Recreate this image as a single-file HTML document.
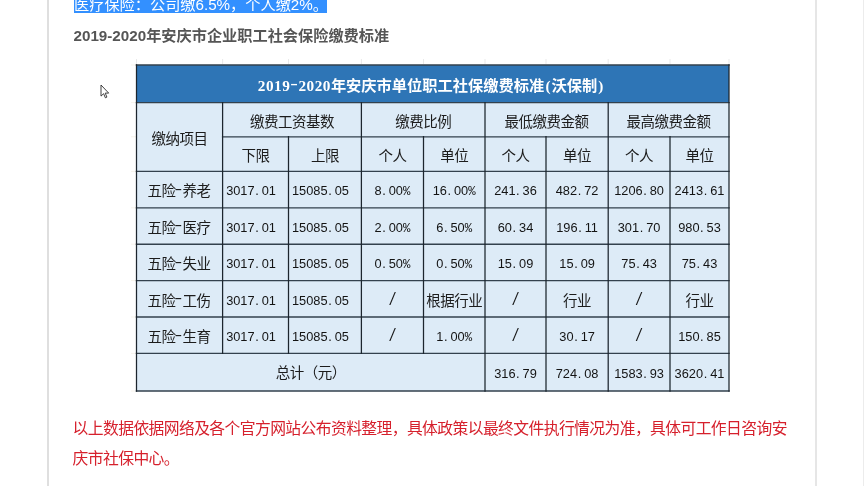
<!DOCTYPE html>
<html lang="zh-CN">
<head>
<meta charset="utf-8">
<title>2019-2020年安庆市企业职工社会保险缴费标准</title>
<style>
html,body{margin:0;padding:0;background:#fff;}
body{width:864px;height:486px;position:relative;overflow:hidden;font-family:"Liberation Sans","Noto Sans CJK SC",sans-serif;}
.bl{position:absolute;top:0;height:486px;background:#dfdfdf;}
.sel{position:absolute;left:74px;top:-8px;height:20.5px;line-height:25.4px;font-size:15.2px;color:#fff;background:#3390ff;white-space:nowrap;width:252.5px;overflow:hidden;}
h3{position:absolute;left:73.5px;top:20.5px;margin:0;font-size:15.2px;line-height:30px;font-weight:bold;color:#555;white-space:nowrap;}
.note{position:absolute;left:72.6px;top:413.5px;width:720px;margin:0;font-size:15.8px;letter-spacing:-0.6px;line-height:30px;color:#d6202c;}
.bg{position:absolute;}
.c{position:absolute;box-sizing:border-box;text-align:center;white-space:nowrap;color:#1c1c1c;font-size:14.5px;overflow:hidden;}
.cj{font-family:"Liberation Sans","Noto Sans CJK SC",sans-serif;font-weight:400;letter-spacing:-0.5px;}
.cj .hy{display:inline-block;width:7px;letter-spacing:0;text-align:center;position:relative;top:-2.4px;left:-0.8px;transform:scaleX(1.6);}
.nm{font-family:"Liberation Sans","Noto Sans CJK SC",sans-serif;font-size:12.8px;color:#141414;}
.nm .n{display:inline-block;transform:scaleY(1.03);}
.nm .p{display:inline-block;width:7.1px;text-align:left;text-indent:0.6px;}
.nm .pc{display:inline-block;width:7.6px;font-family:"Liberation Mono",monospace;font-size:12.4px;transform:scaleY(1.02);}
.nm .sl{display:inline-block;font-family:"Liberation Mono",monospace;font-size:13.5px;transform:scaleY(1.38) translateY(-0.8px);}
.hd{color:#fff;font-family:"Liberation Serif","Noto Sans CJK SC",sans-serif;font-weight:bold;font-size:15.25px;letter-spacing:0;}
.hd .d{letter-spacing:0.5px;}
.hd .pr{display:inline-block;width:7.1px;text-align:center;}
.hd .hy{position:relative;top:-3px;transform:scaleX(1.5);display:inline-block;width:8.1px;text-align:center;letter-spacing:0;}
.grid{position:absolute;left:0;top:0;}
.cur{position:absolute;left:99.5px;top:84.3px;}
</style>
</head>
<body>
<div class="bl" style="left:47px;width:1.5px"></div>
<div class="bl" style="left:815px;width:2px;background:#e6e6e6"></div>
<div class="bl" style="left:863px;width:1px;background:#ececec"></div>
<div class="sel">医疗保险：公司缴6.5%，个人缴2%。</div>
<h3>2019-2020年安庆市企业职工社会保险缴费标准</h3>
<div class="bg" style="left:136.5px;top:65.0px;width:592.5px;height:326.0px;background:#ddebf7"></div>
<div class="bg" style="left:136.5px;top:65.0px;width:592.5px;height:37.599999999999994px;background:#2e75b6"></div>
<div class="c hd" style="left:134.8px;top:65.0px;width:592.5px;height:37.6px;line-height:41.6px"><span class="d">2019</span><span class="hy">-</span><span class="d">2020</span>年安庆市单位职工社保缴费标准<span class="pr">(</span>沃保制<span class="pr">)</span></div>
<div class="c cj" style="left:136.5px;top:102.6px;width:86.1px;height:68.8px;line-height:72.8px">缴纳项目</div>
<div class="c cj" style="left:222.6px;top:102.6px;width:138.8px;height:34.2px;line-height:38.2px">缴费工资基数</div>
<div class="c cj" style="left:361.4px;top:102.6px;width:123.6px;height:34.2px;line-height:38.2px">缴费比例</div>
<div class="c cj" style="left:485.0px;top:102.6px;width:123.2px;height:34.2px;line-height:38.2px">最低缴费金额</div>
<div class="c cj" style="left:608.2px;top:102.6px;width:120.8px;height:34.2px;line-height:38.2px">最高缴费金额</div>
<div class="c cj" style="left:222.6px;top:136.8px;width:65.9px;height:34.6px;line-height:38.6px">下限</div>
<div class="c cj" style="left:288.5px;top:136.8px;width:72.9px;height:34.6px;line-height:38.6px">上限</div>
<div class="c cj" style="left:361.4px;top:136.8px;width:62.1px;height:34.6px;line-height:38.6px">个人</div>
<div class="c cj" style="left:423.5px;top:136.8px;width:61.5px;height:34.6px;line-height:38.6px">单位</div>
<div class="c cj" style="left:485.0px;top:136.8px;width:61.0px;height:34.6px;line-height:38.6px">个人</div>
<div class="c cj" style="left:546.0px;top:136.8px;width:62.2px;height:34.6px;line-height:38.6px">单位</div>
<div class="c cj" style="left:608.2px;top:136.8px;width:61.8px;height:34.6px;line-height:38.6px">个人</div>
<div class="c cj" style="left:670.0px;top:136.8px;width:59.0px;height:34.6px;line-height:38.6px">单位</div>
<div class="c cj" style="left:135.9px;top:171.4px;width:86.1px;height:36.4px;line-height:40.4px">五险<span class="hy">-</span>养老</div>
<div class="c nm" style="left:218.1px;top:171.4px;width:65.9px;height:36.4px;line-height:40.8px"><span class="n">3017<span class="p">.</span>01</span></div>
<div class="c nm" style="left:284.0px;top:171.4px;width:72.9px;height:36.4px;line-height:40.8px"><span class="n">15085<span class="p">.</span>05</span></div>
<div class="c nm" style="left:361.4px;top:171.4px;width:62.1px;height:36.4px;line-height:40.8px"><span class="n">8<span class="p">.</span>00<span class="pc">%</span></span></div>
<div class="c nm" style="left:423.5px;top:171.4px;width:61.5px;height:36.4px;line-height:40.8px"><span class="n">16<span class="p">.</span>00<span class="pc">%</span></span></div>
<div class="c nm" style="left:485.0px;top:171.4px;width:61.0px;height:36.4px;line-height:40.8px"><span class="n">241<span class="p">.</span>36</span></div>
<div class="c nm" style="left:546.0px;top:171.4px;width:62.2px;height:36.4px;line-height:40.8px"><span class="n">482<span class="p">.</span>72</span></div>
<div class="c nm" style="left:608.2px;top:171.4px;width:61.8px;height:36.4px;line-height:40.8px"><span class="n">1206<span class="p">.</span>80</span></div>
<div class="c nm" style="left:670.0px;top:171.4px;width:59.0px;height:36.4px;line-height:40.8px"><span class="n">2413<span class="p">.</span>61</span></div>
<div class="c cj" style="left:135.9px;top:207.8px;width:86.1px;height:36.4px;line-height:40.4px">五险<span class="hy">-</span>医疗</div>
<div class="c nm" style="left:218.1px;top:207.8px;width:65.9px;height:36.4px;line-height:40.8px"><span class="n">3017<span class="p">.</span>01</span></div>
<div class="c nm" style="left:284.0px;top:207.8px;width:72.9px;height:36.4px;line-height:40.8px"><span class="n">15085<span class="p">.</span>05</span></div>
<div class="c nm" style="left:361.4px;top:207.8px;width:62.1px;height:36.4px;line-height:40.8px"><span class="n">2<span class="p">.</span>00<span class="pc">%</span></span></div>
<div class="c nm" style="left:423.5px;top:207.8px;width:61.5px;height:36.4px;line-height:40.8px"><span class="n">6<span class="p">.</span>50<span class="pc">%</span></span></div>
<div class="c nm" style="left:485.0px;top:207.8px;width:61.0px;height:36.4px;line-height:40.8px"><span class="n">60<span class="p">.</span>34</span></div>
<div class="c nm" style="left:546.0px;top:207.8px;width:62.2px;height:36.4px;line-height:40.8px"><span class="n">196<span class="p">.</span>11</span></div>
<div class="c nm" style="left:608.2px;top:207.8px;width:61.8px;height:36.4px;line-height:40.8px"><span class="n">301<span class="p">.</span>70</span></div>
<div class="c nm" style="left:670.0px;top:207.8px;width:59.0px;height:36.4px;line-height:40.8px"><span class="n">980<span class="p">.</span>53</span></div>
<div class="c cj" style="left:135.9px;top:244.2px;width:86.1px;height:36.4px;line-height:40.4px">五险<span class="hy">-</span>失业</div>
<div class="c nm" style="left:218.1px;top:244.2px;width:65.9px;height:36.4px;line-height:40.8px"><span class="n">3017<span class="p">.</span>01</span></div>
<div class="c nm" style="left:284.0px;top:244.2px;width:72.9px;height:36.4px;line-height:40.8px"><span class="n">15085<span class="p">.</span>05</span></div>
<div class="c nm" style="left:361.4px;top:244.2px;width:62.1px;height:36.4px;line-height:40.8px"><span class="n">0<span class="p">.</span>50<span class="pc">%</span></span></div>
<div class="c nm" style="left:423.5px;top:244.2px;width:61.5px;height:36.4px;line-height:40.8px"><span class="n">0<span class="p">.</span>50<span class="pc">%</span></span></div>
<div class="c nm" style="left:485.0px;top:244.2px;width:61.0px;height:36.4px;line-height:40.8px"><span class="n">15<span class="p">.</span>09</span></div>
<div class="c nm" style="left:546.0px;top:244.2px;width:62.2px;height:36.4px;line-height:40.8px"><span class="n">15<span class="p">.</span>09</span></div>
<div class="c nm" style="left:608.2px;top:244.2px;width:61.8px;height:36.4px;line-height:40.8px"><span class="n">75<span class="p">.</span>43</span></div>
<div class="c nm" style="left:670.0px;top:244.2px;width:59.0px;height:36.4px;line-height:40.8px"><span class="n">75<span class="p">.</span>43</span></div>
<div class="c cj" style="left:135.9px;top:280.6px;width:86.1px;height:36.4px;line-height:40.4px">五险<span class="hy">-</span>工伤</div>
<div class="c nm" style="left:218.1px;top:280.6px;width:65.9px;height:36.4px;line-height:40.8px"><span class="n">3017<span class="p">.</span>01</span></div>
<div class="c nm" style="left:284.0px;top:280.6px;width:72.9px;height:36.4px;line-height:40.8px"><span class="n">15085<span class="p">.</span>05</span></div>
<div class="c nm" style="left:361.4px;top:280.6px;width:62.1px;height:36.4px;line-height:40.8px"><span class="sl">/</span></div>
<div class="c cj" style="left:423.5px;top:280.6px;width:61.5px;height:36.4px;line-height:40.4px">根据行业</div>
<div class="c nm" style="left:485.0px;top:280.6px;width:61.0px;height:36.4px;line-height:40.8px"><span class="sl">/</span></div>
<div class="c cj" style="left:546.0px;top:280.6px;width:62.2px;height:36.4px;line-height:40.4px">行业</div>
<div class="c nm" style="left:608.2px;top:280.6px;width:61.8px;height:36.4px;line-height:40.8px"><span class="sl">/</span></div>
<div class="c cj" style="left:670.0px;top:280.6px;width:59.0px;height:36.4px;line-height:40.4px">行业</div>
<div class="c cj" style="left:135.9px;top:317.0px;width:86.1px;height:36.4px;line-height:40.4px">五险<span class="hy">-</span>生育</div>
<div class="c nm" style="left:218.1px;top:317.0px;width:65.9px;height:36.4px;line-height:40.8px"><span class="n">3017<span class="p">.</span>01</span></div>
<div class="c nm" style="left:284.0px;top:317.0px;width:72.9px;height:36.4px;line-height:40.8px"><span class="n">15085<span class="p">.</span>05</span></div>
<div class="c nm" style="left:361.4px;top:317.0px;width:62.1px;height:36.4px;line-height:40.8px"><span class="sl">/</span></div>
<div class="c nm" style="left:423.5px;top:317.0px;width:61.5px;height:36.4px;line-height:40.8px"><span class="n">1<span class="p">.</span>00<span class="pc">%</span></span></div>
<div class="c nm" style="left:485.0px;top:317.0px;width:61.0px;height:36.4px;line-height:40.8px"><span class="sl">/</span></div>
<div class="c nm" style="left:546.0px;top:317.0px;width:62.2px;height:36.4px;line-height:40.8px"><span class="n">30<span class="p">.</span>17</span></div>
<div class="c nm" style="left:608.2px;top:317.0px;width:61.8px;height:36.4px;line-height:40.8px"><span class="sl">/</span></div>
<div class="c nm" style="left:670.0px;top:317.0px;width:59.0px;height:36.4px;line-height:40.8px"><span class="n">150<span class="p">.</span>85</span></div>
<div class="c cj" style="left:136.5px;top:353.4px;width:348.5px;height:37.6px;line-height:41.6px">总计（元）</div>
<div class="c nm" style="left:485.0px;top:353.4px;width:61.0px;height:37.6px;line-height:42.0px"><span class="n">316<span class="p">.</span>79</span></div>
<div class="c nm" style="left:546.0px;top:353.4px;width:62.2px;height:37.6px;line-height:42.0px"><span class="n">724<span class="p">.</span>08</span></div>
<div class="c nm" style="left:608.2px;top:353.4px;width:61.8px;height:37.6px;line-height:42.0px"><span class="n">1583<span class="p">.</span>93</span></div>
<div class="c nm" style="left:670.0px;top:353.4px;width:59.0px;height:37.6px;line-height:42.0px"><span class="n">3620<span class="p">.</span>41</span></div>
<svg class="grid" width="864" height="486" viewBox="0 0 864 486" aria-hidden="true">
<path d="M136.5 59V64M222.6 59V64M288.5 59V64M361.4 59V64M423.5 59V64M485.0 59V64M546.0 59V64M608.2 59V64M670.0 59V64M729.0 59V64" stroke="#e9e9e9" stroke-width="1" fill="none"/>
<path d="M131 65.0H136M131 102.6H136M131 136.8H136M131 171.4H136M131 207.8H136M131 244.2H136M131 280.6H136M131 317.0H136M131 353.4H136M131 391.0H136" stroke="#f7f3ec" stroke-width="1" fill="none"/>
<path d="M135.8 65.0H729.7M135.8 102.6H729.7M135.8 171.4H729.7M135.8 207.8H729.7M135.8 244.2H729.7M135.8 280.6H729.7M135.8 317.0H729.7M135.8 353.4H729.7M135.8 391.0H729.7M221.9 136.8H729.7" stroke="#33414d" stroke-width="1.35" fill="none"/>
<path d="M136.5 64.3V391.7M729.0 64.3V391.7M222.6 101.9V354.1M361.4 101.9V354.1M485.0 101.9V391.7M608.2 101.9V391.7M288.5 136.1V354.1M423.5 136.1V354.1M546.0 136.1V391.7M670.0 136.1V391.7" stroke="#1c252e" stroke-width="1.25" fill="none"/>
</svg>
<svg class="cur" width="14" height="18" viewBox="0 0 14 18" aria-hidden="true"><path d="M1 1V12.1L3.6 9.7L5.4 13.8L6.9 13.1L5.2 9.1H8.7Z" fill="#fff" stroke="#2b2b2b" stroke-width="0.9" stroke-linejoin="miter"/></svg>
<p class="note">以上数据依据网络及各个官方网站公布资料整理，具体政策以最终文件执行情况为准，具体可工作日咨询安庆市社保中心。</p>
</body>
</html>
